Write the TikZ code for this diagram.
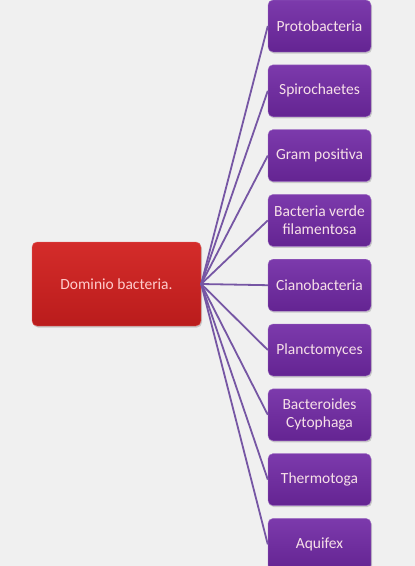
\documentclass[tikz,border=0pt]{standalone}
\usepackage{fontspec}
\setmainfont{Carlito}
\usetikzlibrary{positioning,shadows}
\definecolor{bgcol}{RGB}{240,240,240}
\definecolor{redtop}{RGB}{212,44,42}
\definecolor{redbot}{RGB}{186,28,28}
\definecolor{purtop}{RGB}{124,58,172}
\definecolor{purbot}{RGB}{100,36,146}
\definecolor{purline}{RGB}{118,86,164}
\tikzset{
	rootbox/.style = {draw=redtop!70!white, rounded corners=5pt, top color=redtop, bottom color=redbot,
	  minimum width=169pt, minimum height=84pt, text=white!80!red, align=center,
	  drop shadow={opacity=.35, shadow xshift=1pt, shadow yshift=-1.5pt}},
	phylbox/.style = {draw=purtop!70!white, rounded corners=5pt, top color=purtop, bottom color=purbot,
	  minimum width=103pt, minimum height=52pt, text=white!88!purple, align=center,
	  inner sep=1pt, drop shadow={opacity=.35, shadow xshift=1pt, shadow yshift=-1.5pt}},
	branch/.style = {draw=purline, line width=1.8pt}
	}

\begin{document}
\begin{tikzpicture}[x=1pt, y=-1pt, node distance=12.4pt, font=\fontsize{15.5}{18}\selectfont]

\fill [bgcol] (0,0) rectangle (415,566);
\useasboundingbox (0,0) rectangle (415,566);

% NODES

% root
\node (dominio) [rootbox] at (116.5,284) {Dominio bacteria.};

% phyla
\node (proto) [phylbox] at (319.5,26) {Protobacteria};
\node (spiro) [phylbox,below=of proto] {Spirochaetes};
\node (gram) [phylbox,below=of spiro] {Gram positiva};
\node (verde) [phylbox,below=of gram] {Bacteria verde\\filamentosa};
\node (ciano) [phylbox,below=of verde] {Cianobacteria};
\node (planc) [phylbox,below=of ciano] {Planctomyces};
\node (bacter) [phylbox,below=of planc] {Bacteroides\\Cytophaga};
\node (thermo) [phylbox,below=of bacter] {Thermotoga};
\node (aquif) [phylbox,below=of thermo] {Aquifex};

%CONNECTIONS
\foreach \p in {proto,spiro,gram,verde,ciano,planc,bacter,thermo,aquif}
  \draw [branch] (dominio.east) -- (\p.west);

\end{tikzpicture}
\end{document}
